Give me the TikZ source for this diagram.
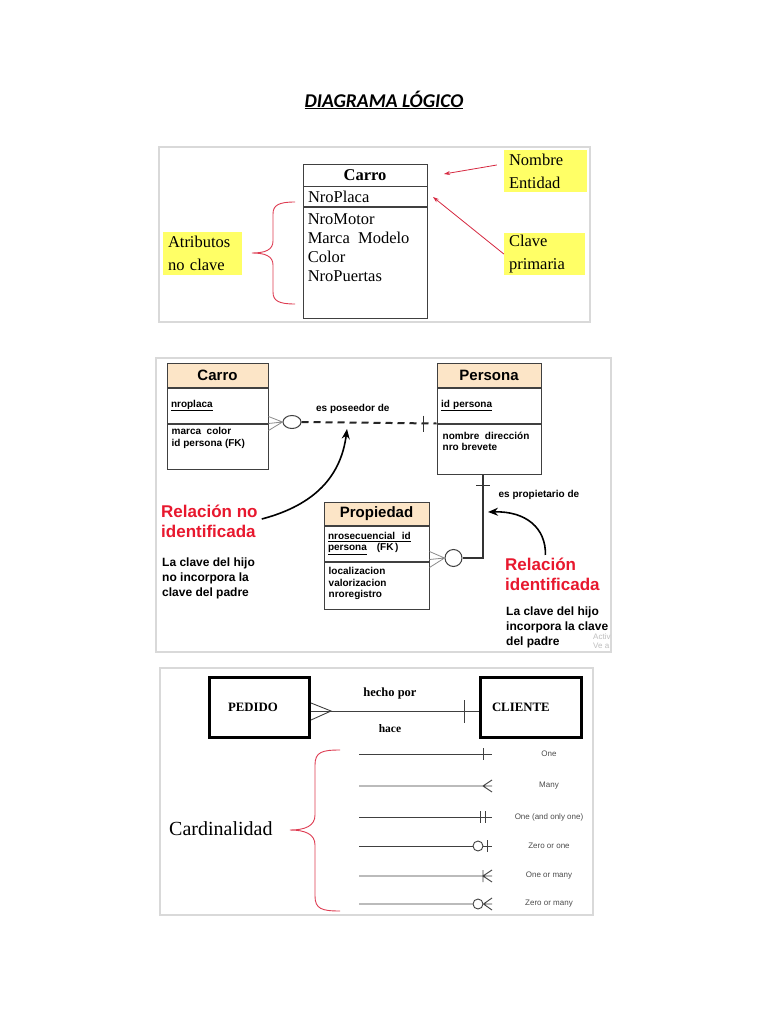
\documentclass[tikz,border=0pt]{standalone}
\usepackage{fontspec}
\setmainfont{Liberation Serif}
\newfontfamily\arialfont{Liberation Sans}
\newfontfamily\titlefont{Carlito}
\usepackage{tikz}
\usetikzlibrary{shapes.geometric, arrows.meta, positioning}
\definecolor{hdrpeach}{RGB}{252, 229, 199}
\definecolor{notegold}{RGB}{255, 255, 102}
\definecolor{relred}{RGB}{232, 24, 46}
\definecolor{arrowred}{RGB}{214, 40, 64}
\definecolor{bracered}{RGB}{222, 60, 82}

\begin{document}
\begin{tikzpicture}[x=1pt, y=-1pt,
    panel/.style={draw=black!15, line width=1.5pt, fill=white, inner sep=0pt},
    note/.style={fill=notegold, inner sep=0pt, align=left,
      font=\fontsize{16.5}{23}\selectfont},
    tbox/.style={draw=black!75, line width=0.9pt, inner sep=0pt,
      minimum width=124, font=\fontsize{16.5}{19}\selectfont},
    ebox/.style={draw=black!75, line width=1pt, inner sep=0pt,
      font=\arialfont\bfseries\fontsize{10}{11.5}\selectfont},
    ehead/.style={ebox, fill=hdrpeach,
      font=\arialfont\bfseries\fontsize{15}{17}\selectfont},
    etext/.style={inner sep=0pt, align=left,
      font=\arialfont\bfseries\fontsize{10}{11.5}\selectfont},
    lbl/.style={inner sep=0pt, font=\arialfont\bfseries\fontsize{10}{11.5}\selectfont},
    redarr/.style={-{Stealth[length=6pt, width=4pt]}, draw=arrowred, line width=0.8pt},
    curly/.style={draw=bracered, line width=0.9pt},
    blkarr/.style={-{Stealth[length=10pt, width=8pt]}, line width=1.6pt},
    rel/.style={draw=black!80, line width=1.3pt},
    dashrel/.style={draw=black!85, line width=2pt, dash pattern=on 7pt off 5pt},
    foot/.style={draw=black!45, line width=0.8pt},
    ring/.style={draw=black!75, line width=1pt, fill=white, inner sep=0pt},
    redtitle/.style={inner sep=0pt, align=left, text=relred,
      font=\arialfont\bfseries\fontsize{17}{20}\selectfont},
    remark/.style={inner sep=0pt, align=left,
      font=\arialfont\bfseries\fontsize{12}{15}\selectfont},
    bigbox/.style={draw=black, line width=3pt, inner sep=0pt, align=left,
      minimum height=60, font=\bfseries\fontsize{12.8}{15}\selectfont},
    midlbl/.style={inner sep=0pt, font=\bfseries\fontsize{12.5}{14}\selectfont},
    cardline/.style={draw=black!75, line width=0.9pt},
    cardlbl/.style={inner sep=0pt, text=black!70, font=\arialfont\fontsize{8}{9}\selectfont}
]
  \fill[white] (0,0) rectangle (768,1024);
  \useasboundingbox (0,0) rectangle (768,1024);

  \node[font=\titlefont\bfseries\itshape\fontsize{19.5}{22}\selectfont] (title)
    at (384,100) {\underline{DIAGRAMA LÓGICO}};

  % frames
  \node[panel, minimum width=431, minimum height=175] (frameA) at (374.5,234.5) {};
  \node[panel, minimum width=455, minimum height=294] (frameB) at (383.5,505) {};
  \node[panel, minimum width=433, minimum height=247] (frameC) at (376.5,791.5) {};

  % --- entidad
  \node[tbox, font=\bfseries\fontsize{16.5}{19}\selectfont, minimum height=22] (carroA) at (365,175) {Carro};
  \node[tbox, minimum height=20, text width=114, align=left, below=0pt of carroA] (placaA) {NroPlaca};
  \node[tbox, minimum height=111, below=0pt of placaA] (attrA) {};
  \node[inner sep=0pt, anchor=north west, align=left, font=\fontsize{16.5}{19}\selectfont] (attrAtxt)
    at ([shift={(5,6.5)}]attrA.north west) {NroMotor\\Marca~~Modelo\\Color\\NroPuertas};

  \node[note, text width=73, minimum width=83, minimum height=42] (nombre) at (545.5,171) {Nombre\\Entidad};
  \node[note, text width=71, minimum width=81, minimum height=42] (clave) at (544.5,254) {Clave\\primaria};
  \node[note, text width=69, minimum width=79, minimum height=43] (atrib) at (202.5,253.5) {Atributos\\no clave};

  \coordinate (hdTip) at (444,174);
  \coordinate (pkTip) at (433,197);
  \draw[redarr] ([xshift=-7pt, yshift=6pt]nombre.west) -- (hdTip);
  \draw[redarr] (clave.west) -- (pkTip);

  \draw[curly] (295,202) .. controls (279,202) and (273,205) .. (273,214) -- (273,241)
    .. controls (273,250) and (265,253) .. (252,253) .. controls (265,253) and (273,256) .. (273,265)
    -- (273,292) .. controls (273,301) and (279,304) .. (295,304);

  % --- relaciones
  \node[ehead, minimum width=101, minimum height=24] (carroB) at (217.5,375) {Carro};
  \node[ebox, minimum width=101, minimum height=35, text width=93, align=left, below=0pt of carroB] (placaB) {\underline{nroplaca}};
  \node[ebox, minimum width=101, minimum height=45, below=0pt of placaB] (attrB) {};
  \node[etext, anchor=north west] (attrBtxt) at ([shift={(5,4)}]attrB.north west) {marca~~color\\id persona (FK)};

  \node[ehead, minimum width=104, minimum height=24] (persB) at (489,375) {Persona};
  \node[ebox, minimum width=104, minimum height=35, text width=96, align=left, below=0pt of persB] (idpB) {\underline{id persona}};
  \node[ebox, minimum width=104, minimum height=50, below=0pt of idpB] (attrP) {};
  \node[etext, anchor=north west] (attrPtxt) at ([shift={(6,8)}]attrP.north west) {nombre~~dirección\\nro brevete};

  \node[ehead, minimum width=105, minimum height=23] (propB) at (376.5,513.5) {Propiedad};
  \node[ebox, minimum width=105, minimum height=35, text width=97, align=left, below=0pt of propB] (keyProp)
    {\underline{nrosecuencial~~id}\\\underline{persona}~~~(FK\,)};
  \node[ebox, minimum width=105, minimum height=47, below=0pt of keyProp] (attrProp) {};
  \node[etext, anchor=north west] (attrProptxt) at ([shift={(5,6)}]attrProp.north west) {localizacion\\valorizacion\\nroregistro};

  \node[ring, ellipse, minimum width=18, minimum height=13] (ringB) at (292,422) {};
  \node[ring, circle, minimum size=17] (ringP) at (453.5,558) {};

  \draw[foot] ([yshift=7pt]placaB.south east) -- (ringB.west) -- ([yshift=-7pt]placaB.south east)
    (placaB.south east) -- (ringB.west);
  \draw[dashrel] (ringB.east) -- node[lbl, pos=0.38, above=8pt] (posLbl) {es poseedor de} (idpB.south west);
  \draw[rel] ([shift={(-13,-8)}]idpB.south west) -- ++(0,16);

  \draw[rel] ([xshift=-6pt]attrP.south) |- node[lbl, pos=0.12, right=15pt] (propLbl) {es propietario de} (ringP.east);
  \draw[rel] ([shift={(-13,11)}]attrP.south) -- ++(14,0);
  \draw[foot] ([yshift=10pt]keyProp.south east) -- (ringP.west) -- ([yshift=-6pt]keyProp.south east)
    ([yshift=2pt]keyProp.south east) -- (ringP.west);

  \node[redtitle, anchor=west] (relNo) at (161,521) {Relación no\\identificada};
  \node[remark, anchor=west] (noteNo) at (162,578) {La clave del hijo\\no incorpora la\\clave del padre};
  \node[redtitle, anchor=west] (relId) at (505,574.5) {Relación\\identificada};
  \node[remark, anchor=west] (noteId) at (506,627) {La clave del hijo\\incorpora la clave\\del padre};

  \coordinate (posTip) at (347,429);
  \coordinate (propTip) at (488,512);
  \draw[blkarr] ([xshift=4pt, yshift=2pt]relNo.east) .. controls (315,505) and (341,476) .. (posTip);
  \draw[blkarr] ([xshift=-7pt, yshift=3pt]relId.north) .. controls (546,528) and (526,511) .. (propTip);

  \begin{scope}
    \clip (580,620) rectangle (610,655);
    \node[inner sep=0pt, anchor=west, align=left, text=black!25,
      font=\arialfont\fontsize{8}{8.5}\selectfont] (wmark) at (593,641) {Activ\\Ve a Co};
  \end{scope}

  % --- cardinalidad
  \node[bigbox, minimum width=100, text width=63] (pedido) at (259.5,707) {PEDIDO};
  \node[bigbox, minimum width=101, text width=78] (cliente) at (531,707) {CLIENTE};

  \draw[cardline] ([yshift=-4pt]pedido.east) --
    node[midlbl, pos=0.47, above=11pt] (hecho) {hecho por}
    node[midlbl, pos=0.47, below=13pt, font=\bfseries\fontsize{11.5}{13}\selectfont] (hace) {hace}
    ([yshift=-4pt]cliente.west);
  \coordinate (pedCrow) at ([shift={(20,4)}]pedido.east);
  \draw[cardline] ([yshift=4pt]pedido.east) -- (pedCrow) -- ([yshift=-13pt]pedido.east);
  \draw[cardline] ([shift={(-15,-7)}]cliente.west) -- ++(0,23);

  \node[font=\fontsize{20}{24}\selectfont, anchor=west, inner sep=0pt] (cardi) at (169,829) {Cardinalidad};
  \draw[curly] (340,750) .. controls (322,750) and (315,752) .. (315,765) -- (315,815)
    .. controls (315,826) and (305,830) .. (290,830) .. controls (305,830) and (315,834) .. (315,845)
    -- (315,896) .. controls (315,909) and (322,911) .. (340,911);

  \foreach \nm/\yy/\txt in {one/754/One, many/786/Many, only/817/{One (and only one)},
      zone/846/{Zero or one}, omany/876/{One or many}, zmany/904/{Zero or many}} {
    \coordinate (\nm L) at (359,\yy);
    \coordinate (\nm R) at (492,\yy);
    \node[cardlbl] (\nm T) at (549,\yy) {\txt};
  }
  \node[ring, circle, minimum size=10, line width=0.9pt] (zoneC) at ([xshift=-14pt]zoneR) {};
  \node[ring, circle, minimum size=10, line width=0.9pt] (zmanyC) at ([xshift=-14pt]zmanyR) {};

  \draw[cardline] (oneL) -- (oneR) ([xshift=-9pt]oneR) ++(0,-6) -- ++(0,12);
  \draw[cardline] (manyL) -- (manyR)
    ([xshift=-9pt]manyR) -- ([yshift=6pt]manyR) ([xshift=-9pt]manyR) -- ([yshift=-6pt]manyR);
  \draw[cardline] (onlyL) -- (onlyR) ([xshift=-12pt]onlyR) ++(0,-6) -- ++(0,12)
    ([xshift=-7pt]onlyR) ++(0,-6) -- ++(0,12);
  \draw[cardline] (zoneL) -- (zoneC.west) (zoneC.east) -- (zoneR)
    ([xshift=-5pt]zoneR) ++(0,-6) -- ++(0,12);
  \draw[cardline] (omanyL) -- (omanyR) ([xshift=-9pt]omanyR) ++(0,-6) -- ++(0,12)
    ([xshift=-9pt]omanyR) -- ([yshift=6pt]omanyR) ([xshift=-9pt]omanyR) -- ([yshift=-6pt]omanyR);
  \draw[cardline] (zmanyL) -- (zmanyC.west)
    (zmanyC.east) -- ([yshift=6pt]zmanyR) (zmanyC.east) -- ([yshift=-6pt]zmanyR) (zmanyC.east) -- (zmanyR);
\end{tikzpicture}
\end{document}
